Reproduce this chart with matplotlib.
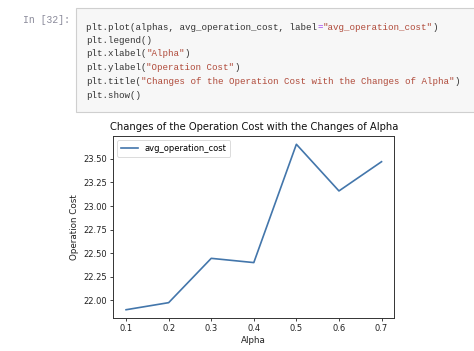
import matplotlib
matplotlib.use("Agg")
import matplotlib.pyplot as plt
from matplotlib.patches import Rectangle

alphas = [0.1, 0.2, 0.3, 0.4, 0.5, 0.6, 0.7]
avg_operation_cost = [21.90, 21.975, 22.445, 22.40, 23.655, 23.16, 23.47]
yticks = [22.00, 22.25, 22.50, 22.75, 23.00, 23.25, 23.50]

W, H = 474, 351
fig = plt.figure(figsize=(W / 100, H / 100), dpi=100)
fig.patch.set_facecolor("white")

def fx(px):
    return px / W

def fy(py):
    return 1 - py / H

# code cell box
fig.patches.append(Rectangle((fx(76), fy(112)), fx(474) - fx(76) + 0.01, fy(8) - fy(112),
                             transform=fig.transFigure, facecolor="#f7f7f7",
                             edgecolor="#cfcfcf", linewidth=0.8, zorder=0))

# prompt
fig.text(fx(23), fy(20), "In [32]:", family="Liberation Mono", fontsize=7.0,
         color="#8a8a9a", va="center", ha="left")

code_black = "#333333"
code_str = "#b04a3a"
code_op = "#a040ee"
code_lines = [
    [("plt.plot(alphas, avg_operation_cost, label", code_black), ("=", code_op),
     ("\"avg_operation_cost\"", code_str), (")", code_black)],
    [("plt.legend()", code_black)],
    [("plt.xlabel(", code_black), ("\"Alpha\"", code_str), (")", code_black)],
    [("plt.ylabel(", code_black), ("\"Operation Cost\"", code_str), (")", code_black)],
    [("plt.title(", code_black), ("\"Changes of the Operation Cost with the Changes of Alpha\"", code_str),
     (")", code_black)],
    [("plt.show()", code_black)],
]
code_fs = 6.6
char_w = 0.6 * code_fs * 100 / 72
line_y = [27, 40.5, 54, 67.5, 81, 95]
for segs, yy in zip(code_lines, line_y):
    x = 86
    for txt, col in segs:
        fig.text(fx(x), fy(yy), txt, family="Liberation Mono", fontsize=code_fs,
                 color=col, va="center", ha="left")
        x += len(txt) * char_w

# chart
ax = fig.add_axes([fx(113.3), fy(318), fx(394.3) - fx(113.3), fy(136) - fy(318)])
ax.plot(alphas, avg_operation_cost, label="avg_operation_cost", color="#4376ab", linewidth=1.2)
ax.set_xticks(alphas)
ax.set_xticklabels([f"{a:.1f}" for a in alphas])
ax.set_yticks(yticks)
ax.set_yticklabels([f"{v:.2f}" for v in yticks])
ax.tick_params(labelsize=6.0, length=2.5, width=0.6, pad=2, colors="#222222")
for s in ax.spines.values():
    s.set_linewidth(0.7)
    s.set_color("#333333")
ax.set_xlabel("Alpha", fontsize=6.3, labelpad=2, color="#222222")
ax.set_ylabel("Operation Cost", fontsize=6.3, labelpad=3, color="#222222")
ax.set_title("Changes of the Operation Cost with the Changes of Alpha", fontsize=7.2,
             pad=4, color="#111111")
leg = ax.legend(loc="upper left", fontsize=6.0, handlelength=2.0, borderpad=0.45,
                frameon=True, fancybox=True)
leg.get_frame().set_linewidth(0.6)

fig.savefig("out.png", dpi=100)
